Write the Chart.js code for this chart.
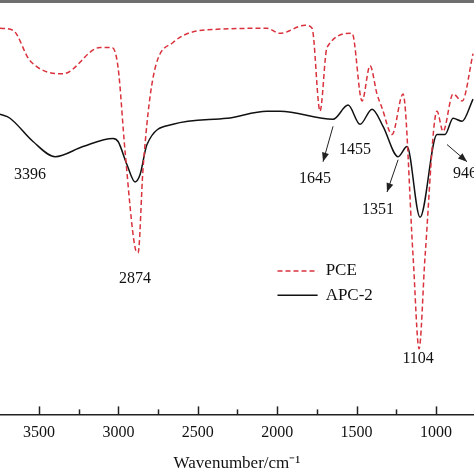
<!DOCTYPE html>
<html><head><meta charset="utf-8">
<script src="https://cdn.jsdelivr.net/npm/chart.js@4.4.0/dist/chart.umd.min.js"></script>
<style>html,body{margin:0;padding:0;background:#fff}#w{width:474px;height:474px}</style>
</head><body><div id="w"><canvas id="c"></canvas></div>
<script>
const pceWave = [3746,3664,3557,3349,3116,3040,3002,2958,2895,2876,2845,2782,2656,2379,2064,1982,1824,1780,1730,1686,1528,1465,1415,1371,1339,1276,1207,1144,1106,1068,993,955,892,835,766];
const pceVal  = [382,380,350,337,363,363,343,260,165,160,243,333,368,381,382,377,385,382,300,363,377,310,345,317,303,277,317,157,65,157,300,280,317,310,357];
const apcWave = [3746,3683,3538,3399,3223,3034,3002,2946,2895,2864,2820,2656,2316,2064,1982,1648,1553,1478,1402,1333,1238,1182,1100,993,942,892,835,766];
const apcVal  = [297,293,270,255,265,273,270,247,230,237,267,287,293,300,300,292,306,287,302,285,255,265,195,277,277,293,290,312];
const seriesNames = ['PCE','APC-2'];
const xTicks = [3500,3000,2500,2000,1500,1000];
const peakLabels = ['3396','2874','1645','1455','1351','1104','946'];
const peakWave = [3557,2895,1761,1509,1364,1112,892];
const peakVal = [237,134,233,262,202,55,238];
const arrows = [[1648,285,1711,250],[1238,252,1308,220],[930,267,804,250]];
const FONT = '"Liberation Serif", "Times New Roman", serif';

const extras = {
  id:'extras',
  afterDraw(ch){
    const c=ch.ctx, xs=ch.scales.x, ys=ch.scales.y, a=ch.chartArea;
    c.save();
    c.fillStyle='#6f6f6f'; c.fillRect(0,0,474,3);
    c.strokeStyle='#222'; c.lineWidth=1.5;
    for(let w=750;w<=3750;w+=250){
      if(w<xs.min||w>xs.max) continue;
      const px=Math.round(xs.getPixelForValue(w))+0.5;
      const len = (w%500===0)?8:5;
      c.beginPath(); c.moveTo(px,a.bottom); c.lineTo(px,a.bottom-len); c.stroke();
    }
    c.fillStyle='#111'; c.font='16px '+FONT; c.textBaseline='middle';
    peakLabels.forEach((t,i)=>{
      c.textAlign = t==='946'?'left':'center';
      c.fillText(t, xs.getPixelForValue(peakWave[i]), ys.getPixelForValue(peakVal[i]));
    });
    c.strokeStyle='#222'; c.fillStyle='#222'; c.lineWidth=1;
    arrows.forEach(([w1,v1,w2,v2])=>{
      const x1=xs.getPixelForValue(w1),y1=ys.getPixelForValue(v1),x2=xs.getPixelForValue(w2),y2=ys.getPixelForValue(v2);
      c.beginPath(); c.moveTo(x1,y1); c.lineTo(x2,y2); c.stroke();
      const ang=Math.atan2(y2-y1,x2-x1), L=9, W=3.5;
      c.beginPath(); c.moveTo(x2,y2);
      c.lineTo(x2-L*Math.cos(ang)+W*Math.sin(ang), y2-L*Math.sin(ang)-W*Math.cos(ang));
      c.lineTo(x2-L*Math.cos(ang)-W*Math.sin(ang), y2-L*Math.sin(ang)+W*Math.cos(ang));
      c.closePath(); c.fill();
    });
    const lx1=xs.getPixelForValue(1998), lx2=xs.getPixelForValue(1745);
    const lyA=ys.getPixelForValue(142), lyB=ys.getPixelForValue(118);
    c.lineWidth=1.5; c.strokeStyle='#d9323c'; c.setLineDash([5,3]);
    c.beginPath(); c.moveTo(lx1,lyA); c.lineTo(lx2,lyA); c.stroke();
    c.setLineDash([]); c.strokeStyle='#111';
    c.beginPath(); c.moveTo(lx1,lyB); c.lineTo(lx2,lyB); c.stroke();
    c.fillStyle='#111'; c.textAlign='left'; c.font='17px '+FONT;
    c.fillText(seriesNames[0], lx2+8, lyA); c.fillText(seriesNames[1], lx2+8, lyB);
    c.restore();
  }
};

new Chart(document.getElementById('c'),{
  type:'line',
  data:{datasets:[
    {label:seriesNames[0],data:pceWave.map((w,i)=>({x:w,y:pceVal[i]})),borderColor:'#d9323c',borderWidth:1.5,borderDash:[5,3],pointRadius:0,cubicInterpolationMode:'monotone',fill:false},
    {label:seriesNames[1],data:apcWave.map((w,i)=>({x:w,y:apcVal[i]})),borderColor:'#111',borderWidth:1.5,pointRadius:0,cubicInterpolationMode:'monotone',fill:false}
  ]},
  options:{
    responsive:true,maintainAspectRatio:false,animation:false,
    layout:{padding:0},
    plugins:{legend:{display:false},tooltip:{enabled:false}},
    scales:{
      x:{type:'linear',reverse:true,min:760,max:3746,
        afterBuildTicks(s){s.ticks=xTicks.map(v=>({value:v}));},
        grid:{display:false,drawTicks:false},border:{display:true,color:'#222',width:1.5},
        ticks:{color:'#111',font:{family:FONT,size:16},padding:9,maxRotation:0,autoSkip:false,callback:v=>String(v)},
        title:{display:true,text:'Wavenumber/cm⁻¹',color:'#111',font:{family:FONT,size:17},padding:{top:2,bottom:0}}},
      y:{display:false,min:0,max:410}
    }
  },
  plugins:[extras]
});
</script></body></html>
